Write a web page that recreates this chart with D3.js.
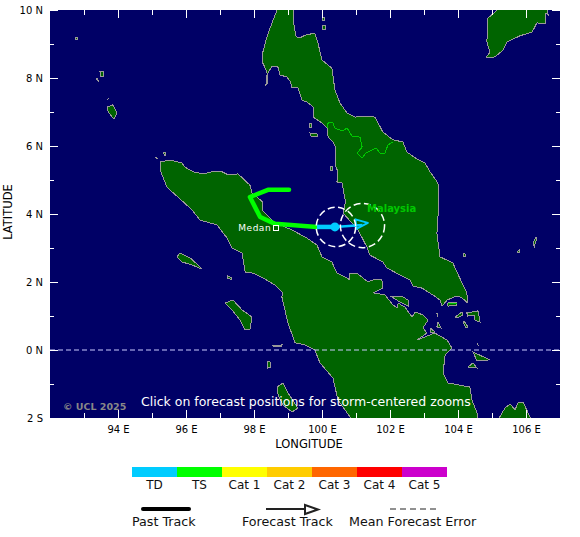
<!DOCTYPE html>
<html>
<head>
<meta charset="utf-8">
<script src="https://cdn.jsdelivr.net/npm/d3@7"></script>
<style>
	html, body { margin: 0; padding: 0; background: #fff; }
	svg { display: block; }
	text { font-family: "DejaVu Sans", sans-serif; }
</style>
</head>
<body>
<svg id="chart" width="580" height="537"></svg>
<script>
// all land outlines are [lon, lat]
const sumatra = [[95.24,5.53],[95.53,5.59],[95.88,5.5],[95.97,5.38],[96.21,5.24],[96.5,5.18],[96.76,5.24],[97.06,5.24],[97.24,5.15],[97.53,5.18],[97.88,4.85],[97.94,4.62],[98.26,4.35],[98.24,4.12],[98.62,3.74],[99.12,3.53],[99.56,3.29],[99.85,3.09],[100,2.74],[100.29,2.59],[100.44,2.26],[100.74,2.12],[100.82,2.06],[100.82,2.26],[101.03,2.26],[101.35,2],[101.5,2.06],[101.76,2.06],[101.79,1.82],[101.5,1.68],[101.85,1.62],[102.09,1.32],[102.21,1.24],[102.24,1.38],[102.44,1.26],[102.65,0.97],[102.74,1.12],[102.97,1.03],[103.12,0.88],[102.97,0.65],[103.09,0.5],[102.79,0.29],[103.32,0.5],[103.68,0.29],[103.82,0.06],[103.62,-0.15],[103.56,-0.68],[103.71,-0.97],[104.35,-1.09],[104.41,-1.47],[104.56,-1.85],[104.59,-2.1],[100.91,-2.1],[100.74,-1.85],[100.47,-1.47],[100.32,-0.82],[99.94,-0.38],[99.79,0],[99.5,0.15],[99.21,0.21],[99,0.79],[98.82,1.56],[98.85,1.68],[98.62,1.91],[98.26,2.12],[97.97,2.26],[97.74,2.29],[97.65,2.85],[97.35,3],[97.21,3.29],[96.91,3.68],[96.41,3.82],[96.18,4.12],[95.76,4.5],[95.44,4.79],[95.24,5.29]];
const peninsula = [[98.68,10.1],[98.68,10],[98.53,9.62],[98.38,9.21],[98.26,8.76],[98.26,8.44],[98.38,8.18],[98.41,7.85],[98.35,7.79],[98.38,8.09],[98.53,8.35],[98.71,8.32],[98.76,8.09],[98.97,8.03],[99.06,7.91],[99.12,7.71],[99.29,7.71],[99.41,7.35],[99.56,7.29],[99.74,7.15],[99.74,6.85],[100,6.68],[100.15,6.53],[100.18,6.26],[100.32,6.12],[100.41,5.94],[100.41,5.38],[100.47,5.24],[100.44,4.94],[100.59,4.91],[100.68,4.41],[100.68,4.32],[100.62,4.03],[101.06,3.53],[101.32,3.03],[101.41,2.79],[101.79,2.59],[101.91,2.41],[102.29,2.21],[102.59,2.06],[102.68,1.88],[102.94,1.82],[103.26,1.62],[103.47,1.47],[103.53,1.29],[103.68,1.47],[103.97,1.59],[104.12,1.53],[104.29,1.38],[104.26,1.68],[103.97,2.29],[103.85,2.56],[103.47,2.74],[103.38,3.44],[103.41,3.91],[103.44,4.41],[103.41,4.91],[103.18,5.24],[103.03,5.5],[102.79,5.62],[102.5,5.82],[102.38,6.12],[102.09,6.18],[101.79,6.41],[101.56,6.85],[101.26,6.88],[100.97,6.85],[100.74,6.97],[100.53,7.26],[100.38,7.65],[100.29,8.29],[100,8.53],[99.88,9.03],[99.79,9.32],[99.5,9.26],[99.35,9.18],[99.24,9.21],[99.21,9.35],[99.15,9.71],[99.15,10.1]];
const vietnam = [[105.15,10.1],[105.15,10],[104.88,9.76],[104.85,9.06],[104.94,8.76],[104.82,8.59],[105.09,8.62],[105.32,8.82],[105.44,9.06],[105.82,9.24],[106.18,9.35],[106.32,9.62],[106.56,9.59],[106.59,9.91],[106.65,9.85],[106.62,10.1]];
const bangka = [[105.15,-2.1],[105.38,-1.71],[105.53,-1.59],[105.68,-1.76],[105.76,-1.56],[105.91,-1.53],[106.18,-2.1]];
const islands = [
	[[95.74,2.74],[95.82,2.85],[96.12,2.71],[96.35,2.5],[96.47,2.38],[96.18,2.5],[95.88,2.59]],
	[[97.15,1.38],[97.38,1.47],[97.65,1.18],[97.94,0.97],[97.88,0.59],[97.74,0.59],[97.59,0.88],[97.35,1.18]],
	[[98.68,-1.09],[98.85,-0.97],[99,-1.26],[99.29,-1.71],[99.12,-1.82],[98.85,-1.62],[98.71,-1.32]],
	[[98.41,-0.35],[98.47,-0.35],[98.5,-0.5],[98.41,-0.53]],
	[[98.56,0.12],[98.82,0.15],[98.79,0.09],[98.59,0.09]],
	[[97.21,2.18],[97.35,2.12],[97.35,2.06],[97.21,2.12]],
	[[93.68,7.15],[93.85,7.21],[93.97,6.97],[93.88,6.79],[93.71,7]],
	[[93.68,7.35],[93.71,7.38],[93.74,7.41]],
	[[92.76,9.18],[92.82,9.18],[92.82,9.12],[92.76,9.12]],
	[[93.47,8.18],[93.56,8.18],[93.56,8.03],[93.5,8.03]],
	[[93.38,8],[93.44,7.88],[93.38,7.94]],
	[[95.32,5.82],[95.41,5.82],[95.38,5.71]],
	[[95.09,5.68],[95.18,5.62],[95.12,5.65]],
	[[100,9.79],[100.06,9.79],[100.06,9.68],[100,9.68]],
	[[100,9.53],[100.09,9.53],[100.09,9.44],[100,9.44]],
	[[99.62,6.65],[99.68,6.65],[99.68,6.53],[99.62,6.53]],
	[[99.65,6.38],[99.88,6.35],[99.88,6.29],[99.68,6.29]],
	[[100.24,5.41],[100.32,5.41],[100.32,5.29],[100.24,5.29]],
	[[102.06,1.56],[102.38,1.56],[102.53,1.47],[102.53,1.29],[102.29,1.41]],
	[[103.68,1.38],[103.97,1.41],[103.97,1.32],[103.71,1.29]],
	[[103.91,0.97],[104.12,1.12],[104.15,1.03],[103.97,0.94]],
	[[104.26,1.09],[104.59,1.15],[104.65,0.82],[104.5,0.88],[104.47,1.03],[104.29,1]],
	[[104.18,0.85],[104.29,0.68],[104.24,0.65],[104.15,0.82]],
	[[103.41,0.82],[103.5,0.65],[103.38,0.68]],
	[[103.38,1.06],[103.41,1.06],[103.41,0.97]],
	[[104.44,-0.06],[104.94,-0.29],[104.56,-0.32]],
	[[104.29,-0.5],[104.44,-0.38],[104.56,-0.53]],
	[[104.56,0.2],[104.6,0.12]],
	[[105.74,2.88],[105.82,2.97],[105.82,2.85]],
	[[106.21,3.15],[106.29,3.32],[106.32,3.29],[106.24,3.03]],
	[[104.15,2.85],[104.21,2.82],[104.21,2.74],[104.15,2.74]],
	[[103.18,0.65],[103.32,0.53],[103.18,0.5]]
];
const borders = [
	[[100.15,6.53],[100.18,6.68],[100.32,6.68],[100.38,6.53],[100.59,6.44],[100.74,6.53],[100.88,6.29],[101.12,6.26],[101.18,5.97],[101.03,5.79],[101.18,5.65],[101.29,5.79],[101.59,5.94],[101.71,5.79],[101.85,5.79],[101.94,6.03],[102.09,6.12]],
	[[103.71,1.36],[103.97,1.38]]
];

const pastTD = [[99.85,3.62],[100.38,3.62]];
const pastTS = [[99.03,4.71],[98.41,4.71],[97.88,4.5],[98.18,3.91],[98.62,3.71],[99.85,3.62]];
const forecast = [[100.38,3.62],[101.19,3.68]];
const forecastTip = [101.35,3.74];
const errorCircles = [
	{ lon: 100.41, lat: 3.62, radius: 0.58 },
	{ lon: 101.19, lat: 3.66, radius: 0.65 }
];
const currentPos = [100.38,3.62];
const medan = [98.65,3.6];

const lonMajor = [94,96,98,100,102,104,106];
const lonMinor = [93,95,97,99,101,103,105];
const latMajor = [-2,0,2,4,6,8,10];
const latMinor = [-1,1,3,5,7,9];

const catNames = ['TD','TS','Cat 1','Cat 2','Cat 3','Cat 4','Cat 5'];
const catColors = ['#00ccff','#00ff00','#ffff00','#ffcc00','#ff6600','#ff0000','#cc00cc'];

const svg = d3.select('#chart');
const x = d3.scaleLinear().domain([92,107]).range([50,560]);
const y = d3.scaleLinear().domain([-2,10]).range([418,10]);
const line = d3.line().x((d) => x(d[0])).y((d) => y(d[1]));
const poly = (d) => line(d) + 'Z';

svg.append('defs').append('clipPath').attr('id','map')
	.append('rect').attr('x',50).attr('y',10).attr('width',510).attr('height',408);

const map = svg.append('g').attr('clip-path','url(#map)');
map.append('rect').attr('x',50).attr('y',10).attr('width',510).attr('height',408).attr('fill','#000066');

// land
map.append('g').selectAll('path')
	.data([sumatra, peninsula, vietnam, bangka, ...islands])
	.enter().append('path')
	.attr('d', poly)
	.attr('fill','#006400')
	.attr('stroke','#999999')
	.attr('stroke-width',1)
	.attr('shape-rendering','crispEdges');

map.append('g').selectAll('path')
	.data(borders)
	.enter().append('path')
	.attr('d', line)
	.attr('fill','none')
	.attr('stroke','#00c800')
	.attr('stroke-width',1)
	.attr('shape-rendering','crispEdges');

// equator
map.append('line')
	.attr('x1',x(92)).attr('x2',x(107)).attr('y1',y(0)).attr('y2',y(0))
	.attr('stroke','#ccccff')
	.attr('stroke-dasharray','5,3');

// axes, ticks point into the map
function styleAxis(g) {
	g.select('.domain').remove();
	g.selectAll('.tick line').attr('stroke','#fff');
	g.selectAll('.tick text').attr('fill','#000').attr('font-size',10).attr('font-family','"DejaVu Sans", sans-serif');
}
const latLabel = (d) => (d < 0 ? `${-d} S` : `${d} N`);
svg.append('g').attr('transform','translate(0,418)')
	.call(d3.axisBottom(x).tickValues(lonMajor).tickSize(-8).tickPadding(8).tickFormat((d) => `${d} E`)).call(styleAxis);
svg.append('g').attr('transform','translate(0,418)')
	.call(d3.axisBottom(x).tickValues(lonMinor).tickSize(-5).tickFormat('')).call(styleAxis);
svg.append('g').attr('transform','translate(0,10)')
	.call(d3.axisTop(x).tickValues(lonMajor).tickSize(-8).tickFormat('')).call(styleAxis);
svg.append('g').attr('transform','translate(0,10)')
	.call(d3.axisTop(x).tickValues(lonMinor).tickSize(-5).tickFormat('')).call(styleAxis);
svg.append('g').attr('transform','translate(50,0)')
	.call(d3.axisLeft(y).tickValues(latMajor).tickSize(-8).tickPadding(7).tickFormat(latLabel)).call(styleAxis);
svg.append('g').attr('transform','translate(50,0)')
	.call(d3.axisLeft(y).tickValues(latMinor).tickSize(-4).tickFormat('')).call(styleAxis);
svg.append('g').attr('transform','translate(560,0)')
	.call(d3.axisRight(y).tickValues(latMajor).tickSize(-8).tickFormat('')).call(styleAxis);
svg.append('g').attr('transform','translate(560,0)')
	.call(d3.axisRight(y).tickValues(latMinor).tickSize(-4).tickFormat('')).call(styleAxis);

svg.append('text').attr('x',309).attr('y',448).attr('text-anchor','middle').attr('font-size',11.5).text('LONGITUDE');
svg.append('text').attr('transform','translate(12,212) rotate(-90)').attr('text-anchor','middle').attr('font-size',11.5).text('LATITUDE');

// track
const track = svg.append('g').attr('fill','none').attr('stroke-linejoin','round');
track.append('path').attr('d',line(pastTS)).attr('stroke','#00ff00').attr('stroke-width',4.5).attr('stroke-linecap','round');
track.append('path').attr('d',line(pastTD)).attr('stroke','#00ccff').attr('stroke-width',4.5);
track.append('path').attr('d',line(forecast)).attr('stroke','#00ccff').attr('stroke-width',2.5);

// arrow head is measured back from the tip along the forecast leg
const tipX = x(forecastTip[0]), tipY = y(forecastTip[1]);
const backX = tipX - 12.5;
track.append('path')
	.attr('d',`M${backX},${tipY-3.5}L${tipX},${tipY}L${backX+1},${tipY+6}Z`)
	.attr('stroke','#00ccff').attr('stroke-width',2);

track.selectAll('circle.err')
	.data(errorCircles)
	.enter().append('circle')
	.attr('class','err')
	.attr('cx',(d) => x(d.lon)).attr('cy',(d) => y(d.lat))
	.attr('r',(d) => x(d.lon + d.radius) - x(d.lon))
	.attr('stroke','#fff').attr('stroke-width',1.5).attr('stroke-dasharray','7,3.5');

svg.append('circle').attr('cx',x(currentPos[0])).attr('cy',y(currentPos[1])).attr('r',4.5).attr('fill','#00ccff');

// labels on the map
svg.append('rect').attr('x',x(medan[0])-2.5).attr('y',y(medan[1])-2.5).attr('width',5).attr('height',5)
	.attr('fill','none').attr('stroke','#fff').attr('shape-rendering','crispEdges');
svg.append('text').attr('x',x(medan[0])-5).attr('y',y(medan[1])+3.5).attr('text-anchor','end')
	.attr('fill','#fff').attr('font-size',9).attr('letter-spacing',0.5).text('Medan');
svg.append('text').attr('x',367).attr('y',212).attr('fill','#00c800').attr('font-size',10).attr('font-weight','bold').text('Malaysia');
svg.append('text').attr('x',141).attr('y',406).attr('fill','#fff').attr('font-size',12.5).text('Click on forecast positions for storm-centered zooms');
svg.append('text').attr('x',63).attr('y',410).attr('fill','#888').attr('font-size',9.5).attr('font-weight','bold').text('© UCL 2025');

// category legend
const legendX = d3.scaleBand().domain(catNames).range([132,447]);
svg.append('g').selectAll('rect')
	.data(catNames)
	.enter().append('rect')
	.attr('x',(d) => legendX(d)).attr('y',467).attr('width',legendX.bandwidth()).attr('height',10)
	.attr('fill',(d,i) => catColors[i]);
svg.append('g').selectAll('text')
	.data(catNames)
	.enter().append('text')
	.attr('x',(d) => legendX(d) + legendX.bandwidth()/2).attr('y',489)
	.attr('text-anchor','middle').attr('font-size',12).attr('fill','#111')
	.text((d) => d);

// track legend
const keys = svg.append('g').attr('fill','none');
keys.append('line').attr('x1',143).attr('x2',189).attr('y1',509).attr('y2',509).attr('stroke','#000').attr('stroke-width',4).attr('stroke-linecap','round');
keys.append('line').attr('x1',266).attr('x2',305).attr('y1',509).attr('y2',509).attr('stroke','#222').attr('stroke-width',2);
keys.append('path').attr('d','M305,505L318,509.5L305,514Z').attr('stroke','#222').attr('stroke-width',2);
keys.append('line').attr('x1',390).attr('x2',436).attr('y1',509).attr('y2',509).attr('stroke','#222').attr('stroke-dasharray','6,4');

const keyText = [['Past Track',132],['Forecast Track',242],['Mean Forecast Error',349]];
svg.append('g').selectAll('text')
	.data(keyText)
	.enter().append('text')
	.attr('x',(d) => d[1]).attr('y',526).attr('font-size',12.7).attr('fill','#111')
	.text((d) => d[0]);
</script>
</body>
</html>
